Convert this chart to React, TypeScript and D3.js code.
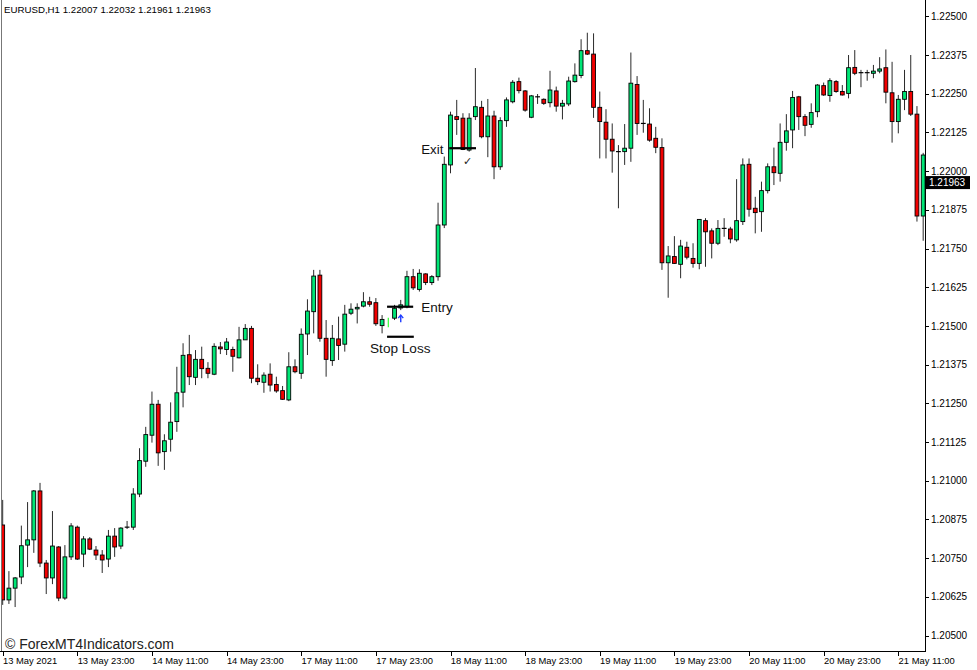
import React from 'react';
import * as d3 from 'd3';

const opens = [1.20857,1.20615,1.20653,1.20689,1.20792,1.20809,1.20967,1.20734,1.20686,1.20786,1.20621,1.20754,1.20850,1.20763,1.20812,1.20776,1.20760,1.20747,1.20821,1.20789,1.20848,1.20850,1.20957,1.21063,1.21147,1.21247,1.21094,1.21134,1.21191,1.21286,1.21407,1.21334,1.21392,1.21363,1.21344,1.21432,1.21424,1.21424,1.21397,1.21455,1.21492,1.21331,1.21318,1.21344,1.21311,1.21291,1.21261,1.21368,1.21347,1.21474,1.21546,1.21664,1.21460,1.21388,1.21458,1.21441,1.21541,1.21555,1.21564,1.21578,1.21575,1.21501,1.21496,1.21525,1.21558,1.21562,1.21659,1.21618,1.21668,1.21640,1.21659,1.21826,1.22020,1.22176,1.22171,1.22068,1.22176,1.22206,1.22111,1.22178,1.22014,1.22163,1.22224,1.22289,1.22259,1.22174,1.22240,1.22232,1.22221,1.22259,1.22210,1.22217,1.22289,1.22309,1.22389,1.22378,1.22206,1.22158,1.22103,1.22063,1.22063,1.22074,1.22280,1.22154,1.22152,1.22106,1.22076,1.21704,1.21724,1.21699,1.21754,1.21718,1.21702,1.21840,1.21807,1.21767,1.21815,1.21813,1.21778,1.21837,1.22022,1.21880,1.21869,1.21937,1.22014,1.21993,1.22093,1.22133,1.22240,1.22176,1.22151,1.22192,1.22276,1.22244,1.22289,1.22257,1.22251,1.22335,1.22318,1.22318,1.22316,1.22323,1.22334,1.22253,1.22160,1.22232,1.22257,1.22184,1.21855];
const highs = [1.20938,1.20708,1.20689,1.20855,1.20931,1.20970,1.20993,1.20744,1.20902,1.20789,1.20792,1.20863,1.20855,1.20821,1.20818,1.20789,1.20776,1.20841,1.20847,1.20850,1.20870,1.20976,1.21105,1.21174,1.21288,1.21261,1.21150,1.21253,1.21368,1.21444,1.21471,1.21422,1.21433,1.21383,1.21444,1.21448,1.21461,1.21433,1.21497,1.21506,1.21500,1.21376,1.21350,1.21379,1.21336,1.21306,1.21415,1.21392,1.21492,1.21586,1.21681,1.21681,1.21519,1.21503,1.21530,1.21568,1.21573,1.21573,1.21609,1.21594,1.21590,1.21535,1.21526,1.21568,1.21584,1.21678,1.21684,1.21683,1.21670,1.21664,1.21898,1.22047,1.22192,1.22230,1.22187,1.22187,1.22333,1.22227,1.22233,1.22195,1.22174,1.22238,1.22294,1.22302,1.22262,1.22246,1.22249,1.22235,1.22324,1.22273,1.22230,1.22305,1.22348,1.22426,1.22447,1.22445,1.22257,1.22200,1.22154,1.22084,1.22152,1.22383,1.22307,1.22230,1.22203,1.22143,1.22106,1.21758,1.21790,1.21778,1.21772,1.21767,1.21845,1.21848,1.21815,1.21842,1.21848,1.21820,1.21974,1.22041,1.22041,1.21917,1.21966,1.22025,1.22076,1.22154,1.22184,1.22259,1.22243,1.22184,1.22219,1.22281,1.22286,1.22300,1.22294,1.22278,1.22375,1.22391,1.22327,1.22327,1.22343,1.22368,1.22393,1.22353,1.22246,1.22327,1.22375,1.22210,1.22059];
const lows = [1.20599,1.20602,1.20592,1.20666,1.20721,1.20767,1.20721,1.20634,1.20666,1.20611,1.20615,1.20744,1.20744,1.20721,1.20776,1.20744,1.20702,1.20721,1.20754,1.20779,1.20844,1.20841,1.20947,1.21045,1.21123,1.21048,1.21035,1.21094,1.21158,1.21237,1.21309,1.21309,1.21331,1.21331,1.21341,1.21409,1.21406,1.21352,1.21395,1.21455,1.21315,1.21309,1.21284,1.21288,1.21284,1.21261,1.21257,1.21347,1.21329,1.21406,1.21476,1.21449,1.21336,1.21371,1.21390,1.21417,1.21535,1.21508,1.21560,1.21562,1.21500,1.21476,1.21496,1.21519,1.21551,1.21557,1.21616,1.21611,1.21632,1.21632,1.21646,1.21816,1.21993,1.22117,1.22068,1.22063,1.22165,1.22106,1.22045,1.21974,1.22004,1.22143,1.22219,1.22251,1.22192,1.22171,1.22217,1.22214,1.22206,1.22192,1.22167,1.22210,1.22286,1.22300,1.22375,1.22172,1.22041,1.22041,1.21995,1.21880,1.22020,1.22030,1.22117,1.22124,1.22095,1.22058,1.21681,1.21591,1.21700,1.21654,1.21715,1.21688,1.21683,1.21691,1.21718,1.21761,1.21788,1.21767,1.21772,1.21826,1.21853,1.21799,1.21804,1.21928,1.21955,1.21966,1.22066,1.22074,1.22133,1.22113,1.22140,1.22174,1.22243,1.22224,1.22253,1.22244,1.22235,1.22310,1.22271,1.22292,1.22300,1.22316,1.22219,1.22092,1.22122,1.22197,1.22178,1.21837,1.21775];
const closes = [1.20615,1.20653,1.20686,1.20790,1.20809,1.20967,1.20734,1.20686,1.20789,1.20621,1.20754,1.20854,1.20747,1.20812,1.20779,1.20760,1.20744,1.20821,1.20786,1.20847,1.20850,1.20957,1.21065,1.21149,1.21247,1.21090,1.21129,1.21189,1.21284,1.21405,1.21336,1.21392,1.21362,1.21347,1.21434,1.21426,1.21448,1.21402,1.21455,1.21492,1.21331,1.21320,1.21341,1.21309,1.21290,1.21263,1.21368,1.21352,1.21473,1.21548,1.21661,1.21460,1.21392,1.21460,1.21437,1.21538,1.21554,1.21560,1.21578,1.21570,1.21507,1.21521,1.21526,1.21557,1.21568,1.21659,1.21623,1.21670,1.21640,1.21659,1.21826,1.22022,1.22181,1.22167,1.22070,1.22171,1.22208,1.22111,1.22178,1.22014,1.22163,1.22230,1.22287,1.22260,1.22197,1.22243,1.22240,1.22219,1.22262,1.22210,1.22219,1.22291,1.22310,1.22389,1.22378,1.22206,1.22160,1.22103,1.22065,1.22063,1.22074,1.22284,1.22154,1.22154,1.22100,1.22077,1.21704,1.21726,1.21702,1.21758,1.21722,1.21702,1.21844,1.21804,1.21767,1.21815,1.21815,1.21781,1.21840,1.22020,1.21877,1.21866,1.21937,1.22014,1.21995,1.22093,1.22130,1.22238,1.22176,1.22148,1.22189,1.22278,1.22246,1.22292,1.22257,1.22246,1.22334,1.22316,1.22318,1.22318,1.22323,1.22330,1.22255,1.22160,1.22232,1.22257,1.22184,1.21855,1.22052];

const signalBars = [62];
const arrowBars = [64];
const timeLabels = ['13 May 2021','13 May 23:00','14 May 11:00','14 May 23:00','17 May 11:00','17 May 23:00','18 May 11:00','18 May 23:00','19 May 11:00','19 May 23:00','20 May 11:00','20 May 23:00','21 May 11:00'];
const priceTicks = d3.range(17).map((i) => 1.205 + i * 0.00125);
const headerText = 'EURUSD,H1  1.22007 1.22032 1.21961 1.21963';
const lastPrice = 1.21963;

const levelNames = ['Entry', 'Stop Loss', 'Exit'];
const levelPrices = [1.21562, 1.21465, 1.22074];
const levelStart = [61.8, 61.8, 71.8];
const levelEnd = [66.0, 66.1, 76.1];

const BULL = '#00E676';
const BEAR = '#F00000';

export default function App() {
  const W = 977, H = 670;
  const plotRight = 925, plotBottom = 651;
  const x = d3.scaleLinear().domain([0, 144]).range([2.7, 898.3]);
  const y = d3.scaleLinear().domain([1.2045, 1.225527]).range([plotBottom, 0]);
  const font = 'Liberation Sans, Arial, sans-serif';

  const candles = opens.map((o, i) => ({ i, o, h: highs[i], l: lows[i], c: closes[i] }));

  return (
    <svg width={W} height={H} style={{ position: 'absolute', left: 0, top: 0, background: '#fff' }}>
      <rect x={0} y={0} width={W} height={H} fill="#fff" />
      <defs>
        <clipPath id="plot"><rect x={2} y={0} width={plotRight - 2} height={plotBottom} /></clipPath>
      </defs>
      <g clipPath="url(#plot)">
        {candles.map((d) => {
          const cx = x(d.i);
          if (signalBars.includes(d.i)) {
            return <line key={d.i} x1={cx} x2={cx} y1={y(d.h)} y2={y(d.l)} stroke="#33FF33" strokeWidth={1.2} />;
          }
          const yo = y(d.o), yc = y(d.c);
          const top = Math.min(yo, yc), bot = Math.max(yo, yc);
          const bull = d.c >= d.o;
          return (
            <g key={d.i}>
              <line x1={cx} x2={cx} y1={y(d.h)} y2={y(d.l)} stroke="#2a2a2a" strokeWidth={1} />
              {bot - top < 1.2 ? (
                <line x1={cx - 2.4} x2={cx + 2.4} y1={top} y2={top} stroke="#000" strokeWidth={1.2} />
              ) : (
                <rect x={cx - 1.9} y={top} width={3.8} height={bot - top} fill={bull ? BULL : BEAR} stroke="#000" strokeWidth={0.9} />
              )}
            </g>
          );
        })}
      </g>

      {/* trade levels */}
      {levelNames.map((n, k) => (
        <line key={n} x1={x(levelStart[k])} x2={x(levelEnd[k])} y1={y(levelPrices[k])} y2={y(levelPrices[k])} stroke="#000" strokeWidth={2.2} />
      ))}
      <text x={x(levelEnd[0]) + 8} y={y(levelPrices[0]) + 5} fontFamily={font} fontSize={13.5} fill="#111">Entry</text>
      <text x={x(levelStart[1]) - 17} y={y(levelPrices[1]) + 16} fontFamily={font} fontSize={13.6} fill="#111">Stop Loss</text>
      <text x={x(levelStart[2]) - 28} y={y(levelPrices[2]) + 5.5} fontFamily={font} fontSize={13.3} fill="#111">Exit</text>
      <text x={x(74.0)} y={y(levelPrices[2]) + 17} fontFamily="DejaVu Sans, sans-serif" fontSize={11} fill="#222">✓</text>
      {arrowBars.map((b) => {
        const ax = x(b);
        const ay = y(lows[b]) + 5;
        return (
          <g key={b} stroke="#1E3CFF" strokeWidth={1.4} fill="none">
            <line x1={ax} x2={ax} y1={ay} y2={ay + 7} />
            <polyline points={`${ax - 2.5},${ay + 3} ${ax},${ay} ${ax + 2.5},${ay + 3}`} />
          </g>
        );
      })}

      {/* frame */}
      <line x1={1.5} x2={1.5} y1={0} y2={plotBottom} stroke="#777" strokeWidth={1} />
      <line x1={plotRight + 0.5} x2={plotRight + 0.5} y1={0} y2={plotBottom} stroke="#000" strokeWidth={1} />
      <line x1={0} x2={plotRight + 1} y1={plotBottom + 0.5} y2={plotBottom + 0.5} stroke="#000" strokeWidth={1} />

      {/* price axis */}
      {priceTicks.map((p) => (
        <g key={p}>
          <line x1={plotRight + 1} x2={plotRight + 4} y1={Math.round(y(p)) + 0.5} y2={Math.round(y(p)) + 0.5} stroke="#000" />
          <text x={931} y={y(p) + 3.6} fontFamily={font} fontSize={10} fill="#000">{p.toFixed(5)}</text>
        </g>
      ))}
      <rect x={926} y={y(lastPrice) - 6.5} width={44} height={13} fill="#000" />
      <text x={929} y={y(lastPrice) + 3.6} fontFamily={font} fontSize={10} fill="#fff">{lastPrice.toFixed(5)}</text>

      {/* time axis */}
      {timeLabels.map((t, k) => {
        const tx = x(k * 12);
        return (
          <g key={t}>
            <line x1={Math.round(tx) + 0.5} x2={Math.round(tx) + 0.5} y1={plotBottom + 1} y2={plotBottom + 5} stroke="#000" />
            <text x={tx + 0.3} y={664} fontFamily={font} fontSize={9.4} fill="#000">{t}</text>
          </g>
        );
      })}

      <text x={4} y={12.5} fontFamily={font} fontSize={9.7} fill="#000">{headerText}</text>
      <text x={5} y={649} fontFamily={font} fontSize={14} fill="#222">© ForexMT4Indicators.com</text>
    </svg>
  );
}
